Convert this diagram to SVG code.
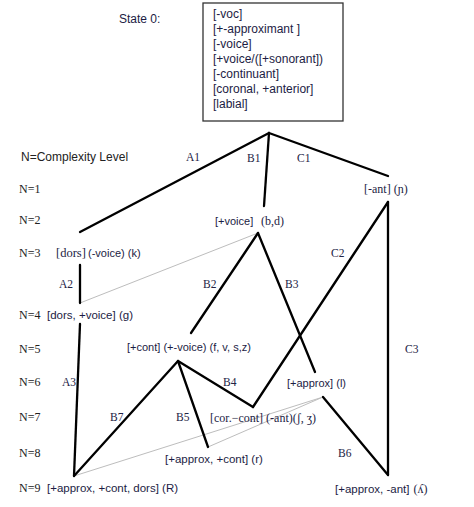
<svg xmlns="http://www.w3.org/2000/svg" width="474" height="507" viewBox="0 0 474 507">
<style>
.s{font-family:"Liberation Sans",Arial,sans-serif;fill:#1c1c44}
.t{font-family:"Liberation Serif","Times New Roman",serif;fill:#1c1c44}
.n{font-family:"Liberation Serif","Times New Roman",serif;font-size:12px;fill:#222}
.lab{font-family:"Liberation Serif","Times New Roman",serif;font-size:11.5px;fill:#222244}
.e{stroke:#000;stroke-width:2.3;fill:none;stroke-linecap:round}
.g{stroke:#bdbdbd;stroke-width:1;fill:none}
</style>
<rect width="474" height="507" fill="#fff"/>
<g id="state0">
<text class="s" x="119" y="23" font-size="12" fill="#222">State 0:</text>
<rect x="203" y="3" width="140" height="118" fill="#fff" stroke="#333" stroke-width="1.3"/>
<g class="s" font-size="12">
<text x="213" y="18">[-voc]</text>
<text x="213" y="33">[+-approximant ]</text>
<text x="213" y="48">[-voice]</text>
<text x="213" y="63">[+voice/([+sonorant])</text>
<text x="213" y="78">[-continuant]</text>
<text x="213" y="93">[coronal, +anterior]</text>
<text x="213" y="108">[labial]</text>
</g>
</g>
<g id="levels">
<text class="s" x="21" y="161" font-size="12" style="fill:#222">N=Complexity Level</text>
<text class="n" x="19" y="193">N=1</text>
<text class="n" x="19" y="224">N=2</text>
<text class="n" x="19" y="257">N=3</text>
<text class="n" x="19" y="319">N=4</text>
<text class="n" x="19" y="353">N=5</text>
<text class="n" x="19" y="386">N=6</text>
<text class="n" x="19" y="421">N=7</text>
<text class="n" x="19" y="457">N=8</text>
<text class="n" x="19" y="492">N=9</text>
</g>
<g id="connectors">
<line class="g" x1="80" y1="303" x2="258" y2="233"/>
<line class="g" x1="74" y1="476" x2="323" y2="397"/>
<line class="g" x1="208" y1="447" x2="323" y2="397"/>
<line class="e" x1="269" y1="133" x2="80" y2="232"/>
<line class="e" x1="269" y1="133" x2="264" y2="206"/>
<line class="e" x1="269" y1="133" x2="388" y2="176"/>
<line class="e" x1="80" y1="265" x2="80" y2="303"/>
<line class="e" x1="258" y1="233" x2="191" y2="333"/>
<line class="e" x1="258" y1="233" x2="315" y2="372"/>
<line class="e" x1="388" y1="202" x2="253" y2="407"/>
<line class="e" x1="388" y1="202" x2="388" y2="475"/>
<line class="e" x1="80" y1="324" x2="74" y2="476"/>
<line class="e" x1="178" y1="361" x2="74" y2="476"/>
<line class="e" x1="178" y1="361" x2="208" y2="447"/>
<line class="e" x1="178" y1="361" x2="253" y2="407"/>
<line class="e" x1="323" y1="397" x2="388" y2="475"/>
<text class="lab" x="186" y="161">A1</text>
<text class="lab" x="247" y="162">B1</text>
<text class="lab" x="297" y="162">C1</text>
<text class="lab" x="59" y="288">A2</text>
<text class="lab" x="203" y="288">B2</text>
<text class="lab" x="285" y="288">B3</text>
<text class="lab" x="331" y="257">C2</text>
<text class="lab" x="405" y="353">C3</text>
<text class="lab" x="62" y="386">A3</text>
<text class="lab" x="223" y="386">B4</text>
<text class="lab" x="110" y="421">B7</text>
<text class="lab" x="176" y="421">B5</text>
<text class="lab" x="338" y="457">B6</text>
</g>
<g id="node-ant">
<text class="t" x="364" y="193" font-size="12">[-ant] (ɲ)</text>
</g>
<g id="node-voice">
<text x="215" y="225" font-size="11"><tspan class="s">[+voice]</tspan><tspan class="t" x="261" font-size="12">(b,d)</tspan></text>
</g>
<g id="node-dors">
<text x="56" y="257" font-size="11"><tspan class="t" font-size="12.5">[dors]</tspan><tspan class="s" x="88">(-voice) (k)</tspan></text>
</g>
<g id="node-dors-voice">
<text class="s" x="47" y="319" font-size="11.5">[dors, +voice] (g)</text>
</g>
<g id="node-cont">
<text class="s" x="127" y="351" font-size="11">[+cont] (+-voice) (f, v, s,z)</text>
</g>
<g id="node-approx-l">
<text class="s" x="287" y="387" font-size="11">[+approx] (l)</text>
</g>
<g id="node-cor">
<text class="t" x="210" y="422" font-size="12">[cor.−cont] (-ant)(ʃ, ʒ)</text>
</g>
<g id="node-approx-r">
<text class="s" x="165" y="463" font-size="11.5">[+approx, +cont] (r)</text>
</g>
<g id="node-approx-R">
<text class="s" x="47" y="492" font-size="11.5">[+approx, +cont, dors] (R)</text>
</g>
<g id="node-approx-ant">
<text x="335" y="493" font-size="11.5"><tspan class="s">[+approx, -ant]</tspan><tspan class="t" dx="4" font-size="12">(ʎ)</tspan></text>
</g>
</svg>
